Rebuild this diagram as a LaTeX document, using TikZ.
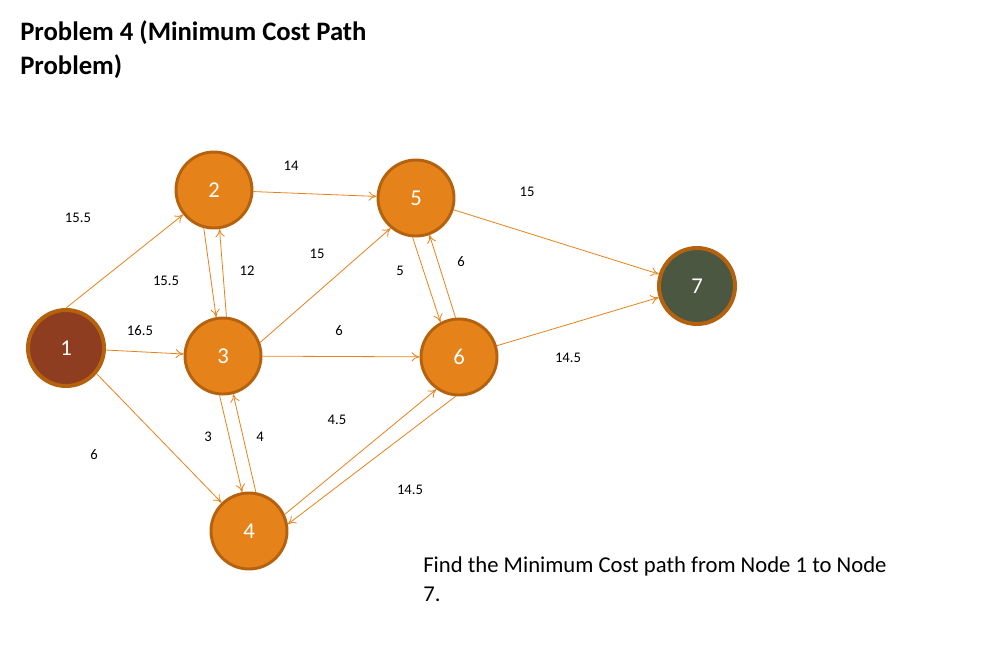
\documentclass[tikz,border=0pt]{standalone}
\usepackage{fontspec}
\setmainfont{Carlito}
\usetikzlibrary{arrows.meta}
\definecolor{org}{HTML}{E6821A}
\definecolor{orgd}{HTML}{B5620E}
\definecolor{brn}{HTML}{8E3D20}
\definecolor{grn}{HTML}{4B5740}
\tikzset{
 vtx/.style={circle,minimum size=57pt,inner sep=0pt,fill=org,draw=orgd,line width=2.2pt,text=white,font=\fontsize{17}{20}\selectfont},
 edge/.style={draw=org,line width=0.6pt,-{To[length=6pt,width=7pt]}},
 lbl/.style={font=\fontsize{11}{13}\selectfont,inner sep=0pt}
}
\begin{document}
\begin{tikzpicture}[x=0.75pt,y=-0.75pt]
\useasboundingbox (0,0) rectangle (999,651);
\node[anchor=north west,align=left,font=\bfseries\fontsize{20}{26}\selectfont,inner sep=0pt] (title) at (20,20) {Problem 4 (Minimum Cost Path\\Problem)};
\node[vtx,fill=brn,line width=3pt] (n1) at (66,348) {1};
\node[vtx] (n2) at (214,190) {2};
\node[vtx] (n3) at (223,356) {3};
\node[vtx] (n4) at (249,531) {4};
\node[vtx] (n5) at (416,198) {5};
\node[vtx] (n6) at (459,357) {6};
\node[vtx,fill=grn,line width=3pt] (n7) at (697,286) {7};
\draw[edge] (n1.90) -- (n2);
\draw[edge] (n1) -- (n3);
\draw[edge] (n1.-40) -- (n4);
\draw[edge] (n2.-105) -- (n3.100);
\draw[edge] (n3.85) -- (n2.-82);
\draw[edge] (n2) -- (n5);
\draw[edge] (n3.20) -- (n5.-130);
\draw[edge] (n3) -- (n6);
\draw[edge] (n3.-95) -- (n4.100);
\draw[edge] (n4.80) -- (n3.-75);
\draw[edge] (n4.25) -- (n6.-125);
\draw[edge] (n6.-95) -- (n4.10);
\draw[edge] (n5.-95) -- (n6.118);
\draw[edge] (n6.95) -- (n5.-70);
\draw[edge] (n5) -- (n7);
\draw[edge] (n6) -- (n7);
\node[lbl] (l1) at (78,218) {15.5};
\node[lbl] (l2) at (291,166) {14};
\node[lbl] (l3) at (527,192) {15};
\node[lbl] (l4) at (166,281) {15.5};
\node[lbl] (l5) at (247,271) {12};
\node[lbl] (l6) at (317,254) {15};
\node[lbl] (l7) at (400,271) {5};
\node[lbl] (l8) at (461,262) {6};
\node[lbl] (l9) at (140,331) {16.5};
\node[lbl] (l10) at (339,331) {6};
\node[lbl] (l11) at (568,358) {14.5};
\node[lbl] (l12) at (208,437) {3};
\node[lbl] (l13) at (260,437) {4};
\node[lbl] (l14) at (337,420) {4.5};
\node[lbl] (l15) at (94,455) {6};
\node[lbl] (l16) at (410,490) {14.5};
\node[anchor=north west,align=left,font=\fontsize{17}{22}\selectfont,inner sep=0pt] (q) at (423,556) {Find the Minimum Cost path from Node 1 to Node\\7.};
\end{tikzpicture}
\end{document}
